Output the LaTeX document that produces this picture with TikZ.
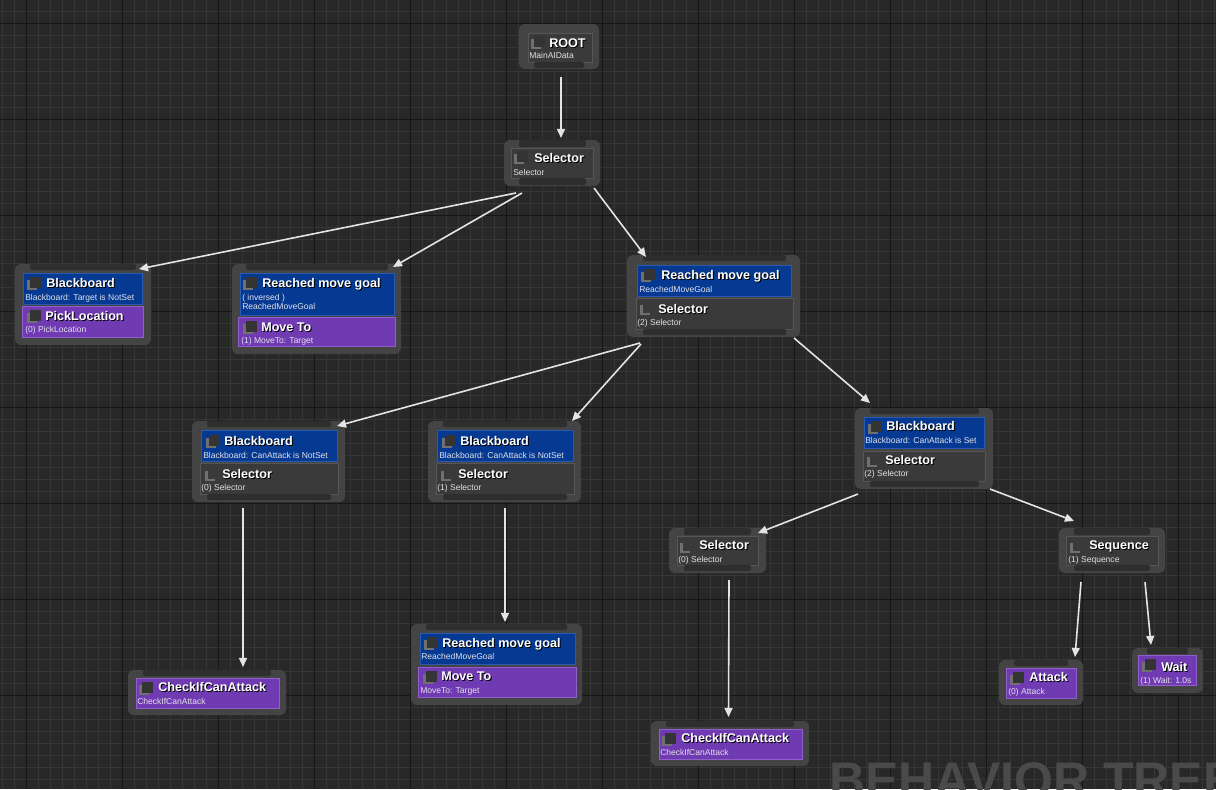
\documentclass[tikz,border=0pt]{standalone}
\usepackage{fontspec}
\setmainfont{Liberation Sans}
\usetikzlibrary{arrows.meta,calc}
\definecolor{bgc}{RGB}{40,40,40}
\definecolor{minorc}{RGB}{54,54,54}
\definecolor{majorc}{RGB}{22,22,22}
\definecolor{outerc}{RGB}{68,68,68}
\definecolor{barc}{RGB}{46,46,46}
\definecolor{greyf}{RGB}{58,58,58}
\definecolor{greyd}{RGB}{86,86,86}
\definecolor{bluef}{RGB}{6,58,146}
\definecolor{blued}{RGB}{40,90,175}
\definecolor{purpf}{RGB}{112,58,178}
\definecolor{purpd}{RGB}{145,95,205}
\definecolor{subtxt}{RGB}{225,225,232}
\definecolor{arrowc}{RGB}{228,228,228}
\definecolor{iconbk}{RGB}{112,112,112}
\definecolor{iconfr}{RGB}{52,52,52}
\definecolor{wmark}{RGB}{74,74,74}
\newcounter{uetx}
\newcommand\ueouter[5]{%
  \pgfmathsetmacro\uecx{(#2+#4)/2}%
  \pgfmathsetmacro\uecy{(#3+#5)/2}%
  \pgfmathsetmacro\uew{(#4-#2)*0.75}%
  \pgfmathsetmacro\ueh{(#5-#3)*0.75}%
  \node[outerbox, minimum width=\uew pt, minimum height=\ueh pt] (#1) at (\uecx,\uecy) {};}
\newcommand\uesec[5]{\draw[#5] (#1,#2) rectangle (#3,#4);}
\newcommand\uebar[4]{\fill[pinbar] (#1,#2) rectangle (#3,#4);}
\newcommand\ueicon[3]{\fill[iconbk] (#1,#2+3) rectangle ++(10,10);\fill[#3] (#1+3,#2) rectangle ++(11,11);}
\newcommand\uettl[3]{\stepcounter{uetx}%
  \node[ttlsh] (ts\theuetx) at (#1+1,#2+1) {#3};%
  \node[ttl] (tt\theuetx) at (#1,#2) {#3};}
\newcommand\uesub[3]{\stepcounter{uetx}\node[subt] (ss\theuetx) at (#1,#2) {#3};}
\begin{document}
\begin{tikzpicture}[x=0.75pt,y=-0.75pt,
  outerbox/.style={draw=none, fill=outerc, rounded corners=4.5pt, inner sep=0pt, outer sep=0pt},
  pinbar/.style={fill=barc, rounded corners=1.5pt},
  bluesec/.style={fill=bluef, draw=blued, line width=0.75pt},
  purpsec/.style={fill=purpf, draw=purpd, line width=0.75pt},
  greysec/.style={fill=greyf, draw=greyd, line width=0.75pt},
  ttl/.style={anchor=base west, inner sep=0pt, font=\fontsize{9.45}{10}\selectfont\bfseries, text=white},
  ttlsh/.style={ttl, text=black},
  subt/.style={anchor=base west, inner sep=0pt, font=\fontsize{6.4}{7}\selectfont, text=subtxt},
  arr/.style={draw=arrowc, line width=1.2pt, -{Triangle[length=6.8pt,width=6pt]}},
  minorline/.style={draw=minorc, line width=0.75pt},
  majorline/.style={draw=majorc, line width=1pt}]
\useasboundingbox (0,0) rectangle (1216,789);
\clip (0,0) rectangle (1216,789);
\fill[bgc] (0,0) rectangle (1216,789);
\foreach \i in {0,...,101} \draw[minorline] (2.7+12*\i,0) -- (2.7+12*\i,789);
\foreach \i in {0,...,66} \draw[minorline] (0,-0.7+12*\i) -- (1216,-0.7+12*\i);
\foreach \i in {0,...,12} \draw[majorline] (26.7+96*\i,0) -- (26.7+96*\i,789);
\foreach \i in {0,...,8} \draw[majorline] (0,23.3+96*\i) -- (1216,23.3+96*\i);
\node[anchor=base west, inner sep=0pt, text=wmark, font=\fontsize{37.5}{40}\selectfont\bfseries] (wm) at (829,797) {BEHAVIOR TREE};

% ROOT
\ueouter{root}{519}{24}{599}{69}
\uesec{528}{33}{592}{62}{greysec}
\uebar{534}{62}{584}{68}
\ueicon{531}{36}{iconfr}
\uettl{549}{47}{ROOT}
\uesub{529}{58}{MainAIData}

% Selector (top)
\ueouter{sel1}{504}{140}{600}{186}
\uebar{519}{140}{586}{147}
\uesec{511}{148}{593}{178}{greysec}
\uebar{519}{178}{586}{185}
\ueicon{514}{151}{iconfr}
\uettl{534}{162}{Selector}
\uesub{513}{175}{Selector}

% Blackboard / PickLocation
\ueouter{bb1}{15}{264}{151}{345}
\uebar{30}{264}{136}{270}
\uesec{23}{273}{142}{304}{bluesec}
\uesec{22}{306}{143}{337}{purpsec}
\ueicon{27}{277}{iconfr}
\uettl{46}{287}{Blackboard}
\uesub{25}{300}{Blackboard: Target is NotSet}
\ueicon{27}{310}{iconfr}
\uettl{45}{320}{PickLocation}
\uesub{25}{332}{(0) PickLocation}

% Reached move goal (inversed) / Move To
\ueouter{rmg1}{232}{264}{401}{354}
\uebar{246}{264}{388}{270}
\uesec{240}{273}{394}{315}{bluesec}
\uesec{238}{317}{395}{346}{purpsec}
\ueicon{243}{277}{iconfr}
\uettl{262}{287}{Reached move goal}
\uesub{242}{300}{( inversed )}
\uesub{242}{309}{ReachedMoveGoal}
\ueicon{243}{321}{iconfr}
\uettl{261}{331}{Move To}
\uesub{241}{343}{(1) MoveTo: Target}

% Reached move goal / (2) Selector
\ueouter{rmg2}{627}{255}{800}{337}
\uebar{643}{255}{786}{261}
\uesec{637}{265}{791}{296}{bluesec}
\uesec{636}{298}{793}{329}{greysec}
\uebar{643}{329}{786}{335}
\ueicon{641}{269}{iconfr}
\uettl{661}{279}{Reached move goal}
\uesub{639}{292}{ReachedMoveGoal}
\ueicon{640}{302}{greyf}
\uettl{658}{313}{Selector}
\uesub{637}{325}{(2) Selector}

% Blackboard / (0) Selector
\ueouter{bb0}{192}{421}{345}{502}
\uebar{207}{421}{331}{427}
\uesec{201}{430}{337}{461}{bluesec}
\uesec{200}{463}{338}{494}{greysec}
\uebar{207}{494}{331}{500}
\ueicon{206}{435}{iconfr}
\uettl{224}{445}{Blackboard}
\uesub{203}{458}{Blackboard: CanAttack is NotSet}
\ueicon{205}{468}{greyf}
\uettl{222}{478}{Selector}
\uesub{201}{490}{(0) Selector}

% Blackboard / (1) Selector
\ueouter{bbn1}{428}{421}{581}{502}
\uebar{443}{421}{567}{427}
\uesec{437}{430}{573}{461}{bluesec}
\uesec{436}{463}{574}{494}{greysec}
\uebar{443}{494}{567}{500}
\ueicon{442}{435}{iconfr}
\uettl{460}{445}{Blackboard}
\uesub{439}{458}{Blackboard: CanAttack is NotSet}
\ueicon{441}{468}{greyf}
\uettl{458}{478}{Selector}
\uesub{437}{490}{(1) Selector}

% Blackboard Set / (2) Selector
\ueouter{bbs}{855}{408}{993}{489}
\uebar{870}{408}{979}{414}
\uesec{864}{417}{984}{448}{bluesec}
\uesec{863}{451}{985}{481}{greysec}
\uebar{870}{481}{979}{487}
\ueicon{868}{421}{iconfr}
\uettl{886}{430}{Blackboard}
\uesub{865}{443}{Blackboard: CanAttack is Set}
\ueicon{867}{454}{greyf}
\uettl{885}{464}{Selector}
\uesub{864}{476}{(2) Selector}

% (0) Selector
\ueouter{sel0}{669}{528}{766}{573}
\uebar{684}{528}{751}{535}
\uesec{677}{536}{758}{565}{greysec}
\uebar{684}{565}{751}{571}
\ueicon{680}{540}{greyf}
\uettl{699}{549}{Selector}
\uesub{678}{562}{(0) Selector}

% (1) Sequence
\ueouter{seq}{1059}{528}{1165}{573}
\uebar{1074}{528}{1150}{535}
\uesec{1066}{536}{1158}{565}{greysec}
\uebar{1074}{565}{1150}{571}
\ueicon{1070}{540}{greyf}
\uettl{1089}{549}{Sequence}
\uesub{1068}{562}{(1) Sequence}

% CheckIfCanAttack (left)
\ueouter{chk1}{128}{670}{286}{715}
\uebar{143}{670}{271}{676}
\uesec{136}{678}{279}{708}{purpsec}
\ueicon{139}{682}{iconfr}
\uettl{158}{691}{CheckIfCanAttack}
\uesub{137}{704}{CheckIfCanAttack}

% Reached move goal / Move To (bottom)
\ueouter{rmg3}{411}{624}{582}{705}
\uebar{426}{624}{567}{630}
\uesec{420}{633}{575}{664}{bluesec}
\uesec{418}{667}{576}{697}{purpsec}
\ueicon{424}{637}{iconfr}
\uettl{442}{647}{Reached move goal}
\uesub{421}{659}{ReachedMoveGoal}
\ueicon{423}{671}{iconfr}
\uettl{441}{680}{Move To}
\uesub{420}{693}{MoveTo: Target}

% CheckIfCanAttack (bottom)
\ueouter{chk2}{651}{721}{809}{766}
\uebar{666}{721}{794}{727}
\uesec{659}{729}{802}{759}{purpsec}
\ueicon{662}{733}{iconfr}
\uettl{681}{742}{CheckIfCanAttack}
\uesub{660}{755}{CheckIfCanAttack}

% Attack
\ueouter{atk}{999}{660}{1083}{705}
\uebar{1014}{660}{1068}{666}
\uesec{1006}{668}{1076}{698}{purpsec}
\ueicon{1010}{672}{iconfr}
\uettl{1029}{681}{Attack}
\uesub{1008}{694}{(0) Attack}

% Wait
\ueouter{wait}{1132}{648}{1203}{693}
\uebar{1147}{648}{1188}{654}
\uesec{1138}{655}{1196}{685}{purpsec}
\ueicon{1142}{659}{iconfr}
\uettl{1161}{671}{Wait}
\uesub{1140}{683}{(1) Wait: 1.0s}

% connectors
\draw[arr] ($(root.south)+(2,8)$) -- ($(sel1.north)+(9,-2)$);
\draw[arr] ($(sel1.south)+(-36,7)$) -- ($(bb1.north east)+(-12,5)$);
\draw[arr] ($(sel1.south)+(-30,7)$) -- ($(rmg1.north east)+(-8,3)$);
\draw[arr] ($(sel1.south)+(42,2)$) -- ($(rmg2.north west)+(19,2)$);
\draw[arr] ($(rmg2.south west)+(13,6)$) -- ($(bb0.north east)+(-8,5)$);
\draw[arr] ($(rmg2.south west)+(14,7)$) -- ($(bbn1.north east)+(-9,0)$);
\draw[arr] ($(rmg2.south east)+(-6,1)$) -- ($(bbs.north west)+(15,-5)$);
\draw[arr] ($(bb0.south)+(-25.5,6)$) -- ($(chk1.north)+(36,-3)$);
\draw[arr] ($(bbn1.south)+(0.5,6)$) -- ($(rmg3.north)+(8.5,-2)$);
\draw[arr] ($(bbs.south west)+(3,5)$) -- ($(sel0.north east)+(-8,5)$);
\draw[arr] ($(bbs.south east)+(-3,0)$) -- ($(seq.north west)+(15,-7)$);
\draw[arr] ($(sel0.south)+(11.5,7)$) -- ($(chk2.north)+(-1.5,-4)$);
\draw[arr] ($(seq.south)+(-31,9)$) -- ($(atk.north)+(34,-3)$);
\draw[arr] ($(seq.south)+(33,9)$) -- ($(wait.north)+(-16.5,-3)$);
\end{tikzpicture}
\end{document}
